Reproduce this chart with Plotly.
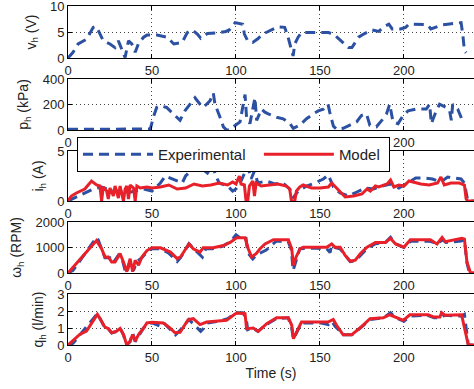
import plotly.graph_objects as go

# ---------------- data ----------------
t_v = [0, 3, 6, 11, 15, 16.5, 18, 21, 25, 28, 30, 33, 34, 36, 38, 40, 42, 45, 47, 53, 59, 63, 68, 71, 74, 77, 79,
       83, 88, 94, 96, 99.5, 104, 105, 107, 110, 113, 116, 119, 125, 129, 131, 134, 135, 137, 139, 147, 150, 155,
       158, 161, 167, 169, 173, 176, 181, 185, 188, 191, 193, 198, 201, 203, 209, 214, 216, 219, 223, 226, 234, 235,
       236, 237]
v_exp = [0, 1.1, 2.7, 3.6, 5.9, 6.1, 5.3, 3.3, 2.7, 2.0, 3.3, 0.8, 0.1, 3.3, 2.7, 1.1, 2.8, 4.0, 4.4, 4.4, 4.0, 2.7,
         3.0, 4.9, 5.4, 4.6, 3.8, 4.7, 4.8, 5.1, 5.4, 6.8, 6.5, 4.6, 3.3, 3.0, 3.7, 4.6, 5.1, 6.0, 5.9, 4.0, 0.4,
         2.7, 4.0, 4.9, 4.9, 4.9, 4.9, 4.6, 3.7, 2.0, 2.0, 4.0, 4.6, 5.4, 5.1, 6.0, 6.5, 5.6, 5.6, 5.9, 6.5, 6.5,
         6.4, 5.6, 5.9, 6.4, 6.5, 6.8, 4.6, 1.4, 1.0]

t_p = [0, 10, 20, 30, 40, 49, 50.8, 52.8, 54.8, 58.7, 62.7, 66.7, 69.6, 72.6, 75.6, 78.6, 80.5, 82.5, 84.5, 86.5,
       87.5, 90.5, 92.5, 94.4, 96, 98.4, 102.4, 105.4, 106.3, 108.3, 111.3, 112.3, 115.2, 117.2, 119.2, 124.2,
       128.1, 132.1, 134.1, 138, 142, 146, 149, 152, 154.8, 155.8, 158, 160, 163.8, 167.8, 171.8, 174.7, 177.7,
       179.7, 183.6, 187.6, 189.6, 191.5, 193.5, 196.5, 199.5, 202.4, 207.4, 213.3, 215.3, 216.3, 219.2, 221.2,
       225.2, 227.2, 228.2, 229, 232, 234, 235]
p_exp = [5, 5, 5, 5, 5, 8, 100, 177, 190, 177, 126, 76, 150, 202, 253, 202, 177, 202, 228, 290, 202, 100, 25, 0, 0,
         25, 63, 278, 100, 50, 253, 76, 164, 140, 126, 100, 88, 50, 13, 38, 88, 126, 150, 164, 202, 140, 30, 5, 13,
         38, 63, 114, 126, 38, 25, 88, 126, 202, 63, 50, 114, 150, 164, 164, 202, 50, 150, 202, 177, 150, 76, 202,
         164, 100, 60]

t_i_exp = [0, 5, 10, 15, 20, 25, 30, 35, 40, 45, 50, 55, 58, 62, 65, 68, 70, 73, 75, 78, 80, 83, 86, 88, 90, 95, 98,
           100, 103, 105, 107, 109, 111, 113, 118, 123, 128, 132, 134, 137, 142, 147, 152, 155, 158, 162, 167, 172,
           177, 182, 187, 192, 197, 202, 207, 212, 217, 222, 226, 230, 234, 236, 238, 241.7]
i_exp = [0, 0.4, 0.8, 1.2, 1.4, 1.1, 1.0, 0.8, 1.0, 1.2, 1.0, 1.8, 2.5, 2.2, 2.0, 1.8, 2.5, 3.0, 3.5, 2.8, 3.2, 2.8,
         3.6, 2.5, 1.8, 1.5, 1.0, 1.2, 2.0, 2.8, 3.5, 2.2, 3.0, 1.8, 2.0, 1.7, 1.8, 1.2, 0.3, 1.0, 1.5, 1.8, 2.2,
         2.6, 1.4, 0.8, 0.5, 0.9, 1.3, 1.2, 1.5, 1.7, 1.3, 1.8, 2.3, 2.3, 2.2, 1.9, 2.4, 2.3, 2.2, 1.8, 0, 0]

t_i_mod = [0, 2, 5, 10, 14, 17, 19, 20, 21, 23, 24, 25, 27, 28, 30, 31, 33, 34, 35, 36, 37, 39, 40, 41, 43, 47, 50,
           55, 60, 65, 70, 75, 80, 85, 90, 95, 98, 100, 102, 103, 105, 106, 107, 108, 110, 111, 112, 115, 120, 125,
           130, 132, 133, 135, 136, 138, 140, 145, 150, 155, 157, 160, 163, 165, 170, 175, 178, 180, 183, 185, 190,
           192, 194, 197, 200, 203, 210, 215, 220, 222, 224, 228, 233, 236, 237, 238, 241.7]
i_mod = [0, 0.5, 0.8, 1.2, 2.0, 1.6, 1.5, 0, 1.4, 1.0, 0.2, 1.3, 0.5, 1.5, 0.3, 1.5, 0, 1.2, 1.5, 0.2, 1.6, 1.3, 0,
         1.5, 1.3, 1.4, 1.3, 1.4, 1.6, 1.2, 1.3, 1.7, 1.5, 1.6, 1.8, 1.6, 1.9, 1.7, 2.5, 1.7, 1.6, 0, 0, 1.5, 2.0,
         0.5, 1.8, 1.5, 1.6, 1.7, 1.5, 1.2, 0, 0, 1.0, 1.4, 1.6, 1.3, 1.3, 1.4, 1.8, 1.3, 0.8, 0.4, 0.5, 0.7, 1.2,
         1.0, 1.5, 1.4, 1.7, 2.1, 1.4, 1.6, 1.5, 2.0, 1.7, 1.6, 1.8, 2.4, 1.6, 1.8, 1.8, 1.6, 0.2, 0, 0]

t_w_exp = [0, 3, 17, 18, 20, 22, 25, 27, 30, 32, 34, 35, 37, 39, 41, 44, 48, 50, 55, 60, 65, 67, 72, 75, 78, 80, 82,
           86, 92, 97, 100, 103, 106, 107, 110, 112, 118, 124, 131, 133, 134, 136, 138, 146, 154, 156, 157, 159, 162,
           168, 171, 178, 183, 189, 192, 195, 200, 204, 215, 220, 223, 225, 234, 236, 237.5, 239, 241.7]
w_exp = [0, 100, 1400, 1300, 950, 600, 600, 400, 700, 600, 100, 0, 500, 100, 450, 600, 900, 950, 950, 780, 450, 600,
         1150, 950, 750, 620, 950, 950, 1050, 1250, 1500, 1350, 1350, 800, 550, 700, 900, 1250, 1250, 900, 100, 500,
         950, 980, 950, 800, 1100, 1000, 950, 450, 480, 950, 1150, 1200, 1400, 1150, 1000, 1250, 1250, 1150, 1300,
         1200, 1250, 1300, 400, 0, 0]

t_w_mod = [0, 17, 20, 22, 24, 26, 28, 31, 33, 35, 37, 38.5, 40, 42, 44, 47, 50, 55, 61, 65, 67, 72, 74.6, 78.6, 80.5,
           86.5, 92.5, 96.5, 100.4, 105.4, 107.3, 109.3, 112, 114.3, 117.3, 122.3, 131.2, 133.2, 134.2, 135.8,
           138.1, 140, 154, 157, 159, 162, 165, 168, 171, 174, 178, 183, 189, 192, 195, 200, 203.8, 215.7, 219.7,
           222.7, 224.6, 234.5, 236, 237.5, 239.5, 241.7]
w_mod = [0, 1270, 950, 630, 630, 435, 435, 760, 435, 50, 560, 50, 500, 310, 630, 880, 990, 990, 820, 565, 630, 1140,
         950, 820, 990, 990, 1075, 1200, 1380, 1380, 950, 630, 760, 950, 1140, 1305, 1305, 950, 307, 630, 950, 1010,
         1010, 1140, 1010, 1010, 690, 460, 500, 755, 1010, 1200, 1200, 1357, 1140, 1010, 1305, 1305, 1140, 1395,
         1230, 1357, 1330, 435, 25, 0]

t_q_exp = [0, 3, 17.5, 20, 22, 24, 26, 29, 31, 33, 35, 37, 38.5, 40, 42, 45, 47, 50, 55, 57, 61, 64, 67, 72, 75, 79,
           81, 83, 90, 95, 100, 104, 106, 107, 110, 113, 118, 124, 131, 133, 134.2, 137, 139, 150, 155, 157, 159,
           164, 169, 174, 180, 188, 192, 195, 200, 204, 214, 218, 222, 224, 234, 236, 237, 238.3, 241.7]
q_exp = [0, 0.1, 1.85, 1.4, 1.0, 0.95, 0.7, 0.8, 1.0, 0.6, 0, 0.2, 0.7, 0.2, 0.5, 1.0, 1.2, 1.3, 1.1, 1.3, 0.9, 0.6,
         0.9, 1.5, 1.2, 0.8, 1.0, 1.3, 1.4, 1.55, 1.9, 1.9, 1.6, 0.9, 1.0, 0.8, 1.2, 1.55, 1.6, 1.1, 0.35, 0.9, 1.3,
         1.3, 1.2, 1.4, 1.1, 0.6, 0.6, 1.0, 1.5, 1.6, 1.9, 1.6, 1.4, 1.7, 1.75, 1.6, 1.6, 1.75, 1.7, 1.8, 1.0, 0, 0]

t_q_mod = [0, 7, 11, 17.5, 20, 22, 24, 26, 29, 31, 33, 35, 37, 38.5, 40, 42, 45, 47, 50, 56.7, 60.7, 63.7, 66.7,
           71.6, 74.6, 78.6, 82.5, 89.5, 94.4, 98.4, 100.4, 105.4, 106.3, 110.3, 113.3, 118.3, 124.2, 131.2, 133.2,
           134.2, 137, 139, 154.8, 157.9, 159.9, 163.8, 168.8, 173.8, 179.8, 187.7, 191.5, 194.5, 199.6, 203.5,
           214.4, 217.5, 221.4, 222.4, 224.4, 234.3, 236.3, 238.3, 241.7]
q_mod = [0, 0.62, 0.82, 1.8, 1.4, 1.05, 0.97, 0.72, 0.82, 0.97, 0.62, 0, 0.23, 0.62, 0.23, 0.62, 1.0, 1.3, 1.34,
         1.3, 1.0, 0.72, 0.75, 1.5, 1.55, 1.2, 1.35, 1.4, 1.45, 1.75, 1.88, 1.84, 0.96, 1.0, 0.8, 1.25, 1.6, 1.6,
         1.16, 0.37, 0.96, 1.35, 1.35, 1.5, 1.16, 0.6, 0.6, 1.0, 1.55, 1.6, 1.78, 1.65, 1.45, 1.78, 1.78, 1.65,
         1.65, 1.9, 1.75, 1.78, 0.96, 0, 0]

y_titles = ["v<sub>h</sub> (V)", "p<sub>h</sub> (kPa)", "i<sub>h</sub> (A)",
            "ω<sub>h</sub> (RPM)", "q<sub>h</sub> (l/min)"]
y_ranges = [[0, 10], [0, 400], [0, 5], [0, 2000], [0, 3]]
y_ticks = [[0, 5, 10], [0, 200, 400], [0, 5], [0, 1000, 2000], [0, 1, 2, 3]]
x_ticks = [0, 50, 100, 150, 200]
x_max = 241.7

BLUE = "#2c50a2"
RED = "#e8202a"

# ---------------- figure ----------------
fig = go.Figure()

def add(tx, vy, k, color, dash, name=None, show=False):
    ax = "" if k == 1 else str(k)
    fig.add_trace(go.Scatter(
        x=tx, y=vy, mode="lines", xaxis="x" + ax, yaxis="y" + ax,
        line=dict(color=color, width=3, dash=dash),
        name=name, showlegend=show, hoverinfo="skip"))

DASH = "10px,6px"
add(t_v, v_exp, 1, BLUE, DASH)
add(t_p, p_exp, 2, BLUE, DASH)
add(t_i_exp, i_exp, 3, BLUE, DASH, "Experimental\u00a0\u00a0", True)
add(t_i_mod, i_mod, 3, RED, "solid", "Model\u00a0", True)
add(t_w_exp, w_exp, 4, BLUE, DASH)
add(t_w_mod, w_mod, 4, RED, "solid")
add(t_q_exp, q_exp, 5, BLUE, DASH)
add(t_q_mod, q_mod, 5, RED, "solid")

H, W = 389, 474
mt, mb, ml, mr = 6, 44, 68, 0
ph = H - mt - mb
panels_px = [(6, 58), (79, 130), (151, 201), (222, 273), (294, 345)]

FONT = "Liberation Sans, Arial, sans-serif"
GRID = "#444"
layout = dict(
    width=W, height=H,
    margin=dict(l=ml, r=mr, t=mt, b=mb, pad=0, autoexpand=False),
    paper_bgcolor="white", plot_bgcolor="white",
    font=dict(family=FONT, size=13, color="#222"),
    showlegend=True,
    legend=dict(
        orientation="h", x=(77 - ml) / (W - ml), y=(H - mb - 137) / ph,
        xanchor="left", yanchor="top",
        bgcolor="white", bordercolor="black", borderwidth=1,
        font=dict(size=15, family=FONT, color="#222"),
        itemwidth=70, tracegroupgap=0,
    ),
)

for k in range(1, 6):
    top, bot = panels_px[k - 1]
    d0 = (H - mb - bot) / ph
    d1 = (H - mb - top) / ph
    ax = "" if k == 1 else str(k)
    xa = dict(
        domain=[0, 1], anchor="y" + ax, range=[0, x_max], automargin=False,
        tickvals=x_ticks, ticks="inside", ticklen=4, tickcolor="black",
        showline=True, linecolor="black", linewidth=1, mirror="ticks",
        showgrid=True, gridcolor=GRID, griddash="1px,3px", gridwidth=1,
        zeroline=False, tickfont=dict(size=13), ticklabeloverflow="allow",
    )
    if k == 5:
        xa["title"] = dict(text="Time (s)", font=dict(size=14), standoff=4)
    layout["xaxis" + ax] = xa
    layout["yaxis" + ax] = dict(
        domain=[d0, d1], anchor="x" + ax, range=y_ranges[k - 1], automargin=False,
        tickvals=y_ticks[k - 1], ticks="inside", ticklen=4, tickcolor="black",
        showline=True, linecolor="black", linewidth=1,
        showgrid=True, gridcolor=GRID, griddash="1px,3px", gridwidth=1,
        zeroline=False, tickfont=dict(size=13), ticklabeloverflow="allow",
        title=dict(text=y_titles[k - 1], font=dict(size=14), standoff=10),
    )

fig.update_layout(**layout)
fig.write_html("out.html", config={"displayModeBar": False},
               post_script="document.body.style.margin='0';document.body.style.overflow='hidden';")
